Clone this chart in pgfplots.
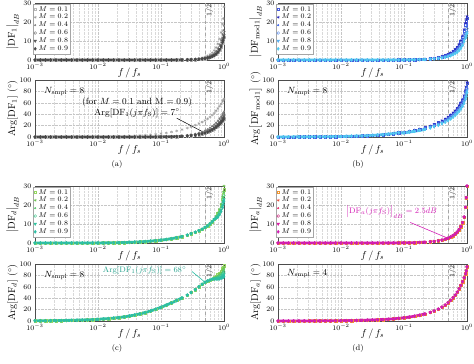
\documentclass[border=0pt]{standalone}
\usepackage{pgfplots}
\pgfplotsset{compat=1.18}
\usepackage{pgfplotstable}

\definecolor{A1}{gray}{0.72}\definecolor{A2}{gray}{0.62}\definecolor{A4}{gray}{0.52}
\definecolor{A6}{gray}{0.45}\definecolor{A8}{gray}{0.35}\definecolor{A9}{gray}{0.28}
\definecolor{B1}{RGB}{70,90,220}\definecolor{B2}{RGB}{40,40,190}\definecolor{B4}{RGB}{60,100,235}
\definecolor{B6}{RGB}{90,140,235}\definecolor{B8}{RGB}{90,175,240}\definecolor{B9}{RGB}{80,200,240}
\definecolor{C1}{RGB}{150,215,100}\definecolor{C2}{RGB}{110,195,80}\definecolor{C4}{RGB}{90,200,110}
\definecolor{C6}{RGB}{60,200,140}\definecolor{C8}{RGB}{50,195,160}\definecolor{C9}{RGB}{45,190,165}
\definecolor{D1}{RGB}{240,150,50}\definecolor{D2}{RGB}{230,80,60}\definecolor{D4}{RGB}{230,50,110}
\definecolor{D6}{RGB}{200,30,120}\definecolor{D8}{RGB}{215,30,165}\definecolor{D9}{RGB}{210,30,180}

% ---------- (a) magnitude
\pgfplotstableread{
f m1 m2 m4 m6 m8 m9
0.001 0 0 0 0 0 0
0.001212 0 0 0 0 0 0
0.001468 0 0 0 0 0 0
0.001778 0 0 0 0 0 0
0.002154 0 0 0 0 0 0
0.00261 0 0 0 0 0 0
0.003162 0 0 0 0 0 0
0.003831 0 0 0 0 0 0
0.004642 0 0 0 0 0 0
0.005623 0 0 0 0 0 0
0.006813 0 0 0 0 0 0
0.008254 0 0 0 0 0 0
0.01 0 0 0 0 0 0
0.01212 0 0 0 0 0 0
0.01468 0 0 0 0 0 0
0.01778 0 0 0 0 0 0
0.02154 0 0 0 0 0 0
0.0261 0 0 0 0 0 0
0.03162 0 0 0 0 0 0
0.03831 0 0 0 0 0 0
0.04642 0 0 0 0 0 0
0.05623 0 0 0 0 0 0
0.06813 0 0 0 0 0 0
0.08254 0 0 0 0 0 0
0.1 0.01 0.01 0.01 0.01 0.01 0.01
0.1212 0.01 0.02 0.02 0.01 0.01 0.01
0.1468 0.02 0.04 0.03 0.02 0.02 0.02
0.1778 0.03 0.07 0.05 0.04 0.04 0.03
0.2154 0.06 0.13 0.09 0.08 0.07 0.06
0.261 0.11 0.22 0.16 0.13 0.12 0.11
0.3 0.16 0.34 0.24 0.20 0.18 0.16
0.35 0.26 0.54 0.39 0.32 0.28 0.26
0.4 0.39 0.81 0.58 0.48 0.42 0.39
0.45 0.56 1.16 0.84 0.70 0.60 0.56
0.5 0.77 1.61 1.16 0.97 0.84 0.77
0.55 1.05 2.19 1.57 1.31 1.14 1.05
0.6 1.40 2.91 2.10 1.75 1.51 1.40
0.65 1.84 3.83 2.76 2.30 1.99 1.84
0.7 2.40 5.01 3.61 3.00 2.60 2.40
0.75 3.13 6.53 4.70 3.92 3.39 3.13
0.8 4.08 8.50 6.12 5.10 4.42 4.08
0.85 5.32 11.08 7.98 6.65 5.76 5.32
0.9 6.96 14.50 10.44 8.70 7.54 6.96
0.95 9.12 19.01 13.69 11.41 9.89 9.12
0.975 10.46 21.80 15.69 13.08 11.33 10.46
1.0 12 28 18 15 13 12
}\tAm

% ---------- (a) phase
\pgfplotstableread{
f m1 m2 m4 m6 m8 m9
0.001 0 0.06 0 0 0 0
0.001212 0 0.07 0 0 0 0
0.001468 0 0.09 0 0 0 0
0.001778 0 0.11 0 0 0 0
0.002154 0 0.13 0 0 0 0
0.00261 0 0.16 0 0 0 0
0.003162 0 0.19 0 0 0 0
0.003831 0 0.23 0 0 0 0
0.004642 0 0.28 0 0 0 0
0.005623 0 0.34 0 0 0 0
0.006813 0 0.41 0 0 0 0
0.008254 0 0.50 0 0 0 0
0.01 0 0.60 0 0 0 0
0.01212 0 0.73 0 0 0 0
0.01468 0 0.88 0 0 0 0
0.01778 0 1.07 0 0 0 0
0.02154 0 1.29 0 0 0 0
0.0261 0 1.57 0 0 0 0
0.03162 0 1.90 0.05 0.04 0 0
0.03831 0 2.30 0.07 0.06 0 0
0.04642 0 2.79 0.10 0.09 0 0
0.05623 0.06 3.37 0.14 0.13 0.06 0.06
0.06813 0.09 4.09 0.21 0.19 0.10 0.09
0.08254 0.13 4.95 0.31 0.27 0.15 0.13
0.1 0.20 6.00 0.45 0.40 0.23 0.20
0.1212 0.31 7.27 0.66 0.59 0.35 0.31
0.1468 0.47 8.81 0.97 0.86 0.53 0.47
0.1778 0.72 10.67 1.42 1.26 0.81 0.72
0.2154 1.09 12.92 2.09 1.86 1.23 1.09
0.261 1.67 15.66 3.07 2.72 1.88 1.67
0.3 2.26 18.0 4.05 3.60 2.54 2.26
0.35 3.18 20.8 5.51 4.90 3.57 3.18
0.4 4.26 23.5 7.20 6.40 4.80 4.26
0.45 5.52 26.2 9.11 8.10 6.21 5.52
0.5 6.96 29.0 11.25 10.00 7.83 6.96
0.55 8.59 32.0 13.61 12.10 9.66 8.59
0.6 10.39 35.2 16.20 14.40 11.69 10.39
0.65 12.40 38.5 19.01 16.90 13.95 12.40
0.7 14.60 42.0 22.05 19.60 16.42 14.60
0.75 16.99 46.0 25.31 22.50 19.12 16.99
0.8 19.59 50.0 28.80 25.60 22.04 19.59
0.85 22.39 54.0 32.51 28.90 25.18 22.39
0.9 25.38 58.0 36.45 32.40 28.55 25.38
0.95 28.59 62.5 40.61 36.10 32.16 28.59
0.975 30.27 64.8 42.78 38.03 34.05 30.27
1.0 32.00 67.0 45.00 40.00 36.00 32.00
}\tAp

% ---------- (b) magnitude
\pgfplotstableread{
f m1 m2 m4 m6 m8 m9
0.001 0 0 0 0 0 0
0.001212 0 0 0 0 0 0
0.001468 0 0 0 0 0 0
0.001778 0 0 0 0 0 0
0.002154 0 0 0 0 0 0
0.00261 0 0 0 0 0 0
0.003162 0 0 0 0 0 0
0.003831 0 0 0 0 0 0
0.004642 0 0 0 0 0 0
0.005623 0 0 0 0 0 0
0.006813 0 0 0 0 0 0
0.008254 0 0 0 0 0 0
0.01 0 0 0 0 0 0
0.01212 0 0 0 0 0 0
0.01468 0 0 0 0 0 0
0.01778 0 0 0 0 0 0
0.02154 0 0 0 0 0 0
0.0261 0 0 0 0 0 0
0.03162 0.01 0.01 0.01 0.01 0.01 0.01
0.03831 0.02 0.02 0.02 0.02 0.02 0.02
0.04642 0.02 0.02 0.02 0.02 0.02 0.02
0.05623 0.03 0.03 0.03 0.03 0.03 0.03
0.06813 0.05 0.05 0.04 0.04 0.03 0.03
0.08254 0.07 0.07 0.06 0.05 0.05 0.04
0.1 0.10 0.11 0.09 0.08 0.07 0.06
0.1212 0.15 0.16 0.13 0.12 0.10 0.09
0.1468 0.22 0.23 0.20 0.17 0.15 0.14
0.1778 0.33 0.34 0.29 0.26 0.22 0.21
0.2154 0.48 0.51 0.43 0.38 0.33 0.30
0.261 0.71 0.75 0.64 0.56 0.49 0.45
0.3 0.95 1.00 0.85 0.75 0.65 0.60
0.35 1.31 1.38 1.18 1.04 0.90 0.83
0.4 1.75 1.84 1.56 1.38 1.20 1.10
0.45 2.26 2.38 2.02 1.79 1.55 1.43
0.5 2.86 3.01 2.56 2.26 1.96 1.81
0.55 3.56 3.75 3.19 2.81 2.44 2.25
0.6 4.39 4.62 3.93 3.47 3.00 2.77
0.65 5.36 5.64 4.79 4.23 3.67 3.38
0.7 6.52 6.86 5.83 5.15 4.46 4.12
0.75 7.92 8.34 7.09 6.26 5.42 5.00
0.8 9.69 10.20 8.67 7.65 6.63 6.12
0.85 12.01 12.64 10.74 9.48 8.22 7.58
0.9 15.3 16.1 13.7 12.1 10.5 9.7
0.95 18.5 19.5 16.0 14.0 12.5 11.5
0.975 20.5 21.5 17.5 15.5 13.5 12.5
1.0 22.0 23.0 18.5 16.5 14.5 14.0
}\tBm

% ---------- (b) phase
\pgfplotstableread{
f m1 m2 m4 m6 m8 m9
0.001 0.09 0.09 0.09 0.09 0.09 0.09
0.001212 0.11 0.11 0.11 0.11 0.11 0.11
0.001468 0.13 0.13 0.13 0.13 0.13 0.13
0.001778 0.16 0.16 0.16 0.16 0.16 0.16
0.002154 0.19 0.19 0.19 0.19 0.19 0.19
0.00261 0.23 0.23 0.23 0.23 0.23 0.23
0.003162 0.28 0.28 0.28 0.28 0.28 0.28
0.003831 0.34 0.34 0.34 0.34 0.34 0.34
0.004642 0.42 0.42 0.42 0.42 0.42 0.42
0.005623 0.51 0.51 0.51 0.51 0.51 0.51
0.006813 0.61 0.61 0.61 0.61 0.61 0.61
0.008254 0.74 0.74 0.74 0.74 0.74 0.74
0.01 0.90 0.90 0.90 0.90 0.90 0.90
0.01212 1.09 1.09 1.09 1.09 1.09 1.09
0.01468 1.32 1.32 1.32 1.32 1.32 1.32
0.01778 1.60 1.60 1.60 1.60 1.60 1.60
0.02154 1.94 1.94 1.94 1.94 1.94 1.94
0.0261 2.35 2.35 2.35 2.35 2.35 2.35
0.03162 2.85 2.85 2.85 2.85 2.85 2.85
0.03831 3.45 3.45 3.45 3.45 3.45 3.45
0.04642 4.18 4.18 4.18 4.18 4.18 4.18
0.05623 5.06 5.06 5.06 5.06 5.06 5.06
0.06813 6.13 6.13 6.13 6.13 6.13 6.13
0.08254 7.40 7.40 7.40 7.40 7.40 7.40
0.1 8.7 8.9 8.3 7.9 7.6 7.2
0.1212 10.4 10.6 9.9 9.4 9.0 8.6
0.1468 12.2 12.4 11.5 11.0 10.5 10.0
0.1778 14.0 14.3 13.3 12.7 12.2 11.6
0.2154 16.3 16.6 15.4 14.8 14.1 13.4
0.261 19.2 19.6 18.2 17.4 16.7 15.9
0.3 21.8 22.2 20.6 19.8 18.9 18.0
0.35 24.9 25.4 23.6 22.6 21.6 20.6
0.4 28.1 28.7 26.7 25.5 24.4 23.2
0.45 31.4 32.0 29.8 28.5 27.2 25.9
0.5 34.7 35.4 32.9 31.5 30.1 28.7
0.55 38.2 39.0 36.3 34.7 33.2 31.6
0.6 41.8 42.7 39.7 38.0 36.3 34.6
0.65 45.7 46.6 43.3 41.5 39.6 37.7
0.7 49.8 50.8 47.2 45.2 43.2 41.1
0.75 54.2 55.3 51.4 49.2 47.0 44.8
0.8 59.1 60.3 56.1 53.7 51.3 48.8
0.85 64.7 66.0 61.4 58.7 56.1 53.5
0.9 71.5 73.0 67.9 65.0 62.1 59.1
0.95 80.4 82.0 76.3 73.0 69.7 66.4
0.975 86.2 88.0 81.8 78.3 74.8 71.3
1.0 94.1 96.0 89.3 85.4 81.6 77.8
}\tBp

% ---------- (c) magnitude
\pgfplotstableread{
f m1 m2 m4 m6 m8 m9
0.001 0 0 0 0 0 0
0.001212 0 0 0 0 0 0
0.001468 0 0 0 0 0 0
0.001778 0 0 0 0 0 0
0.002154 0 0 0 0 0 0
0.00261 0 0 0 0 0 0
0.003162 0.01 0.01 0.01 0.01 0.01 0.01
0.003831 0.01 0.01 0.01 0.01 0.01 0.01
0.004642 0.01 0.01 0.01 0.01 0.01 0.01
0.005623 0.02 0.02 0.02 0.02 0.02 0.02
0.006813 0.02 0.02 0.02 0.02 0.02 0.02
0.008254 0.03 0.03 0.03 0.03 0.03 0.03
0.01 0.04 0.04 0.04 0.04 0.04 0.04
0.01212 0.06 0.06 0.06 0.06 0.06 0.06
0.01468 0.09 0.09 0.09 0.09 0.09 0.09
0.01778 0.13 0.13 0.13 0.13 0.13 0.13
0.02154 0.18 0.18 0.18 0.18 0.18 0.18
0.0261 0.25 0.25 0.25 0.25 0.25 0.25
0.03162 0.34 0.34 0.34 0.34 0.34 0.34
0.03831 0.46 0.46 0.46 0.46 0.46 0.46
0.04642 0.60 0.60 0.60 0.60 0.60 0.60
0.05623 0.77 0.77 0.77 0.77 0.77 0.77
0.06813 0.98 0.98 0.98 0.98 0.98 0.98
0.08254 1.22 1.22 1.22 1.22 1.22 1.22
0.1 1.5 1.5 1.5 1.5 1.5 1.5
0.1212 1.85 1.85 1.85 1.85 1.85 1.85
0.1468 2.3 2.3 2.3 2.3 2.3 2.3
0.1778 2.8 2.8 2.8 2.8 2.8 2.8
0.2154 3.4 3.4 3.4 3.4 3.4 3.4
0.261 4.2 4.2 4.2 4.2 4.2 4.2
0.3 4.9 4.9 4.9 4.9 4.9 4.9
0.35 5.7 5.7 5.7 5.7 5.7 5.7
0.4 6.5 6.5 6.5 6.5 6.5 6.5
0.45 7.3 7.3 7.3 7.3 7.3 7.3
0.5 8.2 8.2 8.2 8.2 8.2 8.2
0.55 9.1 9.1 9.1 9.1 9.1 9.1
0.6 10.1 10.1 10.1 10.1 10.1 10.1
0.65 11.2 11.2 11.2 11.2 11.2 11.2
0.7 12.4 12.4 12.4 12.4 12.4 12.4
0.75 13.9 14.0 13.8 13.6 13.3 13.0
0.8 15.4 15.8 15.0 14.6 14.0 13.6
0.85 17.3 17.8 16.8 16.2 15.5 14.9
0.9 19.7 20.5 19.0 18.2 17.3 16.6
0.95 23.0 24.2 22.0 20.8 19.6 18.6
0.975 25.5 27.0 24.2 22.8 21.3 20.2
1.0 28.0 30.0 26.5 25.0 23.0 22.0
}\tCm

% ---------- (c) phase
\pgfplotstableread{
f m1 m2 m4 m6 m8 m9
0.001 0.4 0.4 0.4 0.4 0.4 0.4
0.001212 0.45 0.45 0.45 0.45 0.45 0.45
0.001468 0.5 0.5 0.5 0.5 0.5 0.5
0.001778 0.6 0.6 0.6 0.6 0.6 0.6
0.002154 0.7 0.7 0.7 0.7 0.7 0.7
0.00261 0.85 0.85 0.85 0.85 0.85 0.85
0.003162 1.0 1.0 1.0 1.0 1.0 1.0
0.003831 1.2 1.2 1.2 1.2 1.2 1.2
0.004642 1.45 1.45 1.45 1.45 1.45 1.45
0.005623 1.75 1.75 1.75 1.75 1.75 1.75
0.006813 2.1 2.1 2.1 2.1 2.1 2.1
0.008254 2.5 2.5 2.5 2.5 2.5 2.5
0.01 3.0 3.0 3.0 3.0 3.0 3.0
0.01212 3.6 3.6 3.6 3.6 3.6 3.6
0.01468 4.3 4.3 4.3 4.3 4.3 4.3
0.01778 5.1 5.1 5.1 5.1 5.1 5.1
0.02154 6.1 6.1 6.1 6.1 6.1 6.1
0.0261 7.3 7.3 7.3 7.3 7.3 7.3
0.03162 8.8 8.8 8.8 8.8 8.8 8.8
0.03831 10.5 10.5 10.5 10.5 10.5 10.5
0.04642 12.5 12.5 12.5 12.5 12.5 12.5
0.05623 14.8 14.8 14.8 14.8 14.8 14.8
0.06813 17.5 17.5 17.5 17.5 17.5 17.5
0.08254 20.6 20.6 20.6 20.6 20.6 20.6
0.1 24.0 24.0 24.0 24.0 24.0 24.0
0.1212 27.8 27.8 27.8 27.8 27.8 27.8
0.1468 31.8 31.8 31.8 31.8 31.8 31.8
0.1778 36.0 36.0 36.0 36.0 36.0 36.0
0.2154 40.5 40.5 40.5 40.5 40.5 40.5
0.261 45.5 45.5 45.5 45.5 45.5 45.5
0.3 50.0 50.0 50.0 50.0 50.0 50.0
0.35 55.0 55.0 55.0 55.0 55.0 55.0
0.4 60.0 60.0 60.0 60.0 60.0 60.0
0.45 64.5 64.5 64.5 64.5 64.5 64.5
0.5 68.0 68.0 68.0 68.0 68.0 68.0
0.55 70.3 70.3 70.3 70.3 70.3 70.3
0.6 72.0 72.0 72.0 72.0 72.0 72.0
0.65 73.5 73.5 73.5 73.5 73.5 73.5
0.7 76.0 75.5 75.0 74.5 74.0 73.5
0.75 78.5 77.5 76.5 75.5 74.5 73.5
0.8 81.0 80.0 78.0 76.5 75.0 73.5
0.85 84.0 82.5 80.0 78.0 76.0 74.0
0.9 87.5 85.5 82.5 80.0 77.5 75.0
0.95 91.5 89.0 85.5 82.5 79.0 76.0
0.975 94.0 91.5 87.5 84.0 80.5 77.0
1.0 97.0 94.0 90.0 86.0 82.0 78.0
}\tCp

% ---------- (d) magnitude and phase (all M coincide)
\pgfplotstableread{
f m p
0.001 0 0.06
0.001212 0 0.07
0.001468 0 0.08
0.001778 0 0.10
0.002154 0 0.12
0.00261 0 0.15
0.003162 0 0.18
0.003831 0 0.22
0.004642 0 0.26
0.005623 0 0.32
0.006813 0 0.38
0.008254 0 0.46
0.01 0 0.56
0.01212 0 0.68
0.01468 0 0.83
0.01778 0 1.00
0.02154 0 1.21
0.0261 0 1.47
0.03162 0.01 1.78
0.03831 0.01 2.15
0.04642 0.02 2.61
0.05623 0.03 3.16
0.06813 0.04 3.83
0.08254 0.06 4.64
0.1 0.09 5.65
0.1212 0.13 6.87
0.1468 0.20 8.35
0.1778 0.29 10.16
0.2154 0.43 12.4
0.261 0.64 15.2
0.3 0.85 17.66
0.35 1.18 20.96
0.4 1.56 24.42
0.45 2.02 28.1
0.5 2.56 32.0
0.55 3.19 36.2
0.6 3.92 40.7
0.65 4.79 45.56
0.7 5.83 50.8
0.75 7.09 56.5
0.8 8.67 62.5
0.85 10.74 69.0
0.9 13.7 75.8
0.95 18.8 82.8
0.975 23.9 88.0
1.0 30.0 95.0
}\tD

% common axis options, given through macros that open the axis
\newcommand{\MagAxis}[2]{\begin{axis}[scale only axis, width=189pt, height=57pt,
    xmode=log, xmin=0.001, xmax=1, xtick={0.001,0.01,0.1,1},
    ymin=0, ymax=30, ytick={0,10,20,30},
    grid=both, major grid style={gray!45, densely dotted, line width=0.35pt},
    minor grid style={gray!30, densely dotted, line width=0.3pt},
    tick label style={font=\scriptsize}, label style={font=\normalsize},
    xlabel={$f\,/\,f_s$},
    xlabel style={at={(axis description cs:0.5,0)}, anchor=north, yshift=-4pt},
    ylabel style={at={(axis description cs:-0.118,0.5)}, anchor=center, inner sep=0pt},
    clip=false, axis line style={gray!60!black},
    major tick length=0pt, minor tick length=0pt,
    legend style={at={(-0.01,0.99)}, anchor=north west, font=\scriptsize, inner sep=0.5pt,
      row sep=-2.4pt, draw=gray!70, fill=white},
    legend cell align=left,
    at={#1}, anchor=south west, ylabel={#2}]}
\newcommand{\ArgAxis}[2]{\begin{axis}[scale only axis, width=189pt, height=57pt,
    xmode=log, xmin=0.001, xmax=1, xtick={0.001,0.01,0.1,1},
    ymin=0, ymax=100, ytick={0,20,40,60,80,100},
    grid=both, major grid style={gray!45, densely dotted, line width=0.35pt},
    minor grid style={gray!30, densely dotted, line width=0.3pt},
    tick label style={font=\scriptsize}, label style={font=\normalsize},
    xlabel={$f\,/\,f_s$},
    xlabel style={at={(axis description cs:0.5,0)}, anchor=north, yshift=-4pt},
    ylabel style={at={(axis description cs:-0.118,0.5)}, anchor=center, inner sep=0pt},
    clip=false, axis line style={gray!60!black},
    major tick length=0pt, minor tick length=0pt,
    at={#1}, anchor=south west, ylabel={#2}]}
\newcommand{\half}[1]{\draw[dashed, gray!70] (axis cs:0.5,0) -- (axis cs:0.5,#1);
  \node[rotate=90, anchor=north east, font=\scriptsize, inner sep=1pt] at (axis cs:0.5,#1) {$1/2$};}

\begin{document}
\begin{tikzpicture}
\useasboundingbox (0,0) rectangle (474pt,364pt);

% ===== (a) top
\MagAxis{(35pt,304pt)}{$\bigl|\mathrm{DF}_1\bigr|_{dB}$}
\addplot[A9, line width=2.8pt, forget plot, restrict x to domain=-7.5:-1.5] table[x=f,y=m9]{\tAm};
\addplot[A1, only marks, mark=square, mark size=1.2pt] table[x=f,y=m1]{\tAm};
\addplot[A2, only marks, mark=asterisk, mark size=1.5pt] table[x=f,y=m2]{\tAm};
\addplot[A4, only marks, mark=*, mark size=0.8pt] table[x=f,y=m4]{\tAm};
\addplot[A6, only marks, mark=o, mark size=1.4pt] table[x=f,y=m6]{\tAm};
\addplot[A8, only marks, mark=triangle*, mark options={rotate=180}, mark size=1.5pt] table[x=f,y=m8]{\tAm};
\addplot[A9, only marks, mark=diamond*, mark size=1.5pt] table[x=f,y=m9]{\tAm};
\legend{$M=0.1$,$M=0.2$,$M=0.4$,$M=0.6$,$M=0.8$,$M=0.9$}
\half{30}
\end{axis}
% ===== (a) bottom
\ArgAxis{(35pt,227pt)}{$\mathrm{Arg}[\mathrm{DF}_1]$ $(^\circ)$}
\addplot[A9, line width=2.8pt, forget plot, restrict x to domain=-7.5:-1.5] table[x=f,y=m9]{\tAp};
\addplot[A1, only marks, mark=square, mark size=1.2pt] table[x=f,y=m1]{\tAp};
\addplot[A2, only marks, mark=asterisk, mark size=1.5pt] table[x=f,y=m2]{\tAp};
\addplot[A4, only marks, mark=*, mark size=0.8pt] table[x=f,y=m4]{\tAp};
\addplot[A6, only marks, mark=o, mark size=1.4pt] table[x=f,y=m6]{\tAp};
\addplot[A8, only marks, mark=triangle*, mark options={rotate=180}, mark size=1.5pt] table[x=f,y=m8]{\tAp};
\addplot[A9, only marks, mark=diamond*, mark size=1.5pt] table[x=f,y=m9]{\tAp};
\half{100}
\node[anchor=west, font=\small] at (axis description cs:0.03,0.8) {$N_{\mathrm{smpl}}=8$};
\node[font=\small, align=center] at (axis description cs:0.54,0.52) {(for $M=0.1$ and M $=0.9$)\\[0pt] $\mathrm{Arg}[\mathrm{DF}_1(j\pi f_\mathrm{S})]=7^\circ$};
\draw[black, line width=0.5pt] (axis description cs:0.75,0.33) -- (axis cs:0.5,7);
\end{axis}
\node[font=\footnotesize] at (117pt,199pt) {(a)};

% ===== (b) top
\MagAxis{(278pt,304pt)}{$\bigl|\mathrm{DF}_{\mathrm{mod1}}\bigr|_{dB}$}
\addplot[B9, line width=2.8pt, forget plot, restrict x to domain=-7.5:-1.5] table[x=f,y=m9]{\tBm};
\addplot[B1, only marks, mark=square, mark size=1.2pt] table[x=f,y=m1]{\tBm};
\addplot[B2, only marks, mark=asterisk, mark size=1.5pt] table[x=f,y=m2]{\tBm};
\addplot[B4, only marks, mark=*, mark size=0.8pt] table[x=f,y=m4]{\tBm};
\addplot[B6, only marks, mark=o, mark size=1.4pt] table[x=f,y=m6]{\tBm};
\addplot[B8, only marks, mark=triangle*, mark options={rotate=180}, mark size=1.5pt] table[x=f,y=m8]{\tBm};
\addplot[B9, only marks, mark=diamond*, mark size=1.5pt] table[x=f,y=m9]{\tBm};
\legend{$M=0.1$,$M=0.2$,$M=0.4$,$M=0.6$,$M=0.8$,$M=0.9$}
\half{30}
\end{axis}
% ===== (b) bottom
\ArgAxis{(278pt,227pt)}{$\mathrm{Arg}\bigl[\mathrm{DF}_{\mathrm{mod1}}\bigr]$ $(^\circ)$}
\addplot[B9, line width=2.8pt, forget plot, restrict x to domain=-7.5:-1.5] table[x=f,y=m9]{\tBp};
\addplot[B1, only marks, mark=square, mark size=1.2pt] table[x=f,y=m1]{\tBp};
\addplot[B2, only marks, mark=asterisk, mark size=1.5pt] table[x=f,y=m2]{\tBp};
\addplot[B4, only marks, mark=*, mark size=0.8pt] table[x=f,y=m4]{\tBp};
\addplot[B6, only marks, mark=o, mark size=1.4pt] table[x=f,y=m6]{\tBp};
\addplot[B8, only marks, mark=triangle*, mark options={rotate=180}, mark size=1.5pt] table[x=f,y=m8]{\tBp};
\addplot[B9, only marks, mark=diamond*, mark size=1.5pt] table[x=f,y=m9]{\tBp};
\half{100}
\node[anchor=west, font=\small] at (axis description cs:0.03,0.8) {$N_{\mathrm{smpl}}=8$};
\end{axis}
\node[font=\footnotesize] at (358pt,199pt) {(b)};

% ===== (c) top
\MagAxis{(35pt,121pt)}{$\bigl|\mathrm{DF}_d\bigr|_{dB}$}
\addplot[C9, line width=2.8pt, forget plot, restrict x to domain=-7.5:-1.5] table[x=f,y=m9]{\tCm};
\addplot[C1, only marks, mark=square, mark size=1.2pt] table[x=f,y=m1]{\tCm};
\addplot[C2, only marks, mark=asterisk, mark size=1.5pt] table[x=f,y=m2]{\tCm};
\addplot[C4, only marks, mark=*, mark size=0.8pt] table[x=f,y=m4]{\tCm};
\addplot[C6, only marks, mark=o, mark size=1.4pt] table[x=f,y=m6]{\tCm};
\addplot[C8, only marks, mark=triangle*, mark options={rotate=180}, mark size=1.5pt] table[x=f,y=m8]{\tCm};
\addplot[C9, only marks, mark=diamond*, mark size=1.5pt] table[x=f,y=m9]{\tCm};
\legend{$M=0.1$,$M=0.2$,$M=0.4$,$M=0.6$,$M=0.8$,$M=0.9$}
\half{30}
\end{axis}
% ===== (c) bottom
\ArgAxis{(35pt,43pt)}{$\mathrm{Arg}[\mathrm{DF}_d]$ $(^\circ)$}
\addplot[C9, line width=2.8pt, forget plot, restrict x to domain=-7.5:-1.5] table[x=f,y=m9]{\tCp};
\addplot[C1, only marks, mark=square, mark size=1.2pt] table[x=f,y=m1]{\tCp};
\addplot[C2, only marks, mark=asterisk, mark size=1.5pt] table[x=f,y=m2]{\tCp};
\addplot[C4, only marks, mark=*, mark size=0.8pt] table[x=f,y=m4]{\tCp};
\addplot[C6, only marks, mark=o, mark size=1.4pt] table[x=f,y=m6]{\tCp};
\addplot[C8, only marks, mark=triangle*, mark options={rotate=180}, mark size=1.5pt] table[x=f,y=m8]{\tCp};
\addplot[C9, only marks, mark=diamond*, mark size=1.5pt] table[x=f,y=m9]{\tCp};
\half{100}
\node[anchor=west, font=\small] at (axis description cs:0.03,0.8) {$N_{\mathrm{smpl}}=8$};
\node[font=\footnotesize, text=C9!85!black] at (axis description cs:0.58,0.89) {$\mathrm{Arg}[\mathrm{DF}_1(j\pi f_\mathrm{S})]=68^\circ$};
\draw[C9, line width=0.6pt] (axis description cs:0.83,0.87) -- (axis cs:0.5,68);
\end{axis}
\node[font=\footnotesize] at (117pt,15pt) {(c)};

% ===== (d) top
\MagAxis{(278pt,121pt)}{$\bigl|\mathrm{DF}_a\bigr|_{dB}$}
\addplot[D9, line width=2.8pt, forget plot, restrict x to domain=-7.5:-1.5] table[x=f,y=m]{\tD};
\addplot[D1, only marks, mark=square, mark size=1.2pt] table[x=f,y=m]{\tD};
\addplot[D2, only marks, mark=asterisk, mark size=1.5pt] table[x=f,y=m]{\tD};
\addplot[D4, only marks, mark=*, mark size=0.8pt] table[x=f,y=m]{\tD};
\addplot[D6, only marks, mark=o, mark size=1.4pt] table[x=f,y=m]{\tD};
\addplot[D8, only marks, mark=triangle*, mark options={rotate=180}, mark size=1.5pt] table[x=f,y=m]{\tD};
\addplot[D9, only marks, mark=diamond*, mark size=1.5pt] table[x=f,y=m]{\tD};
\legend{$M=0.1$,$M=0.2$,$M=0.4$,$M=0.6$,$M=0.8$,$M=0.9$}
\half{30}
\node[font=\footnotesize, text=D9] at (axis description cs:0.6,0.55) {$\bigl|\mathrm{DF}_a(j\pi f_\mathrm{S})\bigr|_{dB}=2.5dB$};
\draw[D9, line width=0.6pt] (axis description cs:0.70,0.36) -- (axis cs:0.5,2.5);
\end{axis}
% ===== (d) bottom
\ArgAxis{(278pt,43pt)}{$\mathrm{Arg}[\mathrm{DF}_a]$ $(^\circ)$}
\addplot[D9, line width=2.8pt, forget plot, restrict x to domain=-7.5:-1.5] table[x=f,y=p]{\tD};
\addplot[D1, only marks, mark=square, mark size=1.2pt] table[x=f,y=p]{\tD};
\addplot[D2, only marks, mark=asterisk, mark size=1.5pt] table[x=f,y=p]{\tD};
\addplot[D4, only marks, mark=*, mark size=0.8pt] table[x=f,y=p]{\tD};
\addplot[D6, only marks, mark=o, mark size=1.4pt] table[x=f,y=p]{\tD};
\addplot[D8, only marks, mark=triangle*, mark options={rotate=180}, mark size=1.5pt] table[x=f,y=p]{\tD};
\addplot[D9, only marks, mark=diamond*, mark size=1.5pt] table[x=f,y=p]{\tD};
\half{100}
\node[anchor=west, font=\small] at (axis description cs:0.03,0.84) {$N_{\mathrm{smpl}}=4$};
\end{axis}
\node[font=\footnotesize] at (358pt,15pt) {(d)};
\end{tikzpicture}
\end{document}
